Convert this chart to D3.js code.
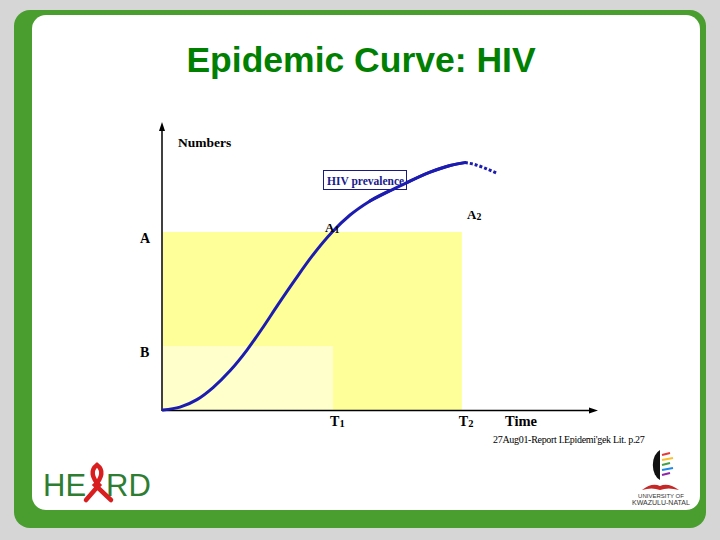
<!DOCTYPE html>
<html><head><meta charset="utf-8">
<script src="https://cdn.jsdelivr.net/npm/d3@7"></script>
<style>html,body{margin:0;padding:0;background:#d6d6d6;}svg{display:block;}</style>
</head><body>
<svg id="c" width="720" height="540"></svg>
<script>
// ---- data ----
const curveSolid = [[0,0],[3.9,1.0],[7.8,3.6],[11.5,7.8],[15.4,13.6],[19.3,20.8],[22.8,28.3],[26.4,36.5],[30.3,45.1],[34.3,53.5],[38.9,61.8],[43.0,67.7],[47.6,72.6],[54.5,77.8],[61.4,82.6],[66.0,84.9],[69.4,85.9]];
const curveDotted = [[69.4,85.9],[71.3,85.4],[74.0,84.0],[76.6,82.3]];
const timeMarks = [{label:"T",sub:"1",t:39.1},{label:"T",sub:"2",t:68.7}];
const levels = [{label:"A",v:61.8},{label:"B",v:22.2}];
const title = "Epidemic Curve: HIV";
const source = "27Aug01-Report I.Epidemi'gek Lit.  p.27";

const svg = d3.select("#c");
// frame
svg.append("rect").attr("x",14).attr("y",10).attr("width",692).attr("height",518).attr("rx",16).attr("fill","#4a9e2f");
svg.append("rect").attr("x",32).attr("y",15).attr("width",668).attr("height",495).attr("rx",14).attr("fill","#ffffff");

const x = d3.scaleLinear().domain([0,100]).range([163,598]);
const y = d3.scaleLinear().domain([0,100]).range([410,122]);

// rectangles
svg.append("rect").attr("x",x(0)).attr("y",y(levels[0].v)).attr("width",x(timeMarks[1].t)-x(0)).attr("height",y(0)-y(levels[0].v)).attr("fill","#ffff99");
svg.append("rect").attr("x",x(0)).attr("y",y(levels[1].v)).attr("width",x(timeMarks[0].t)-x(0)).attr("height",y(0)-y(levels[1].v)).attr("fill","#ffffcc");

// axes
const ser = "Liberation Serif, Times New Roman, serif";
svg.append("line").attr("x1",x(0)-1).attr("x2",x(0)-1).attr("y1",y(0)+1).attr("y2",y(100)+4).attr("stroke","#000").attr("stroke-width",1.5);
svg.append("path").attr("d",`M${x(0)-1},${y(100)} l-3,9 l6,0 z`).attr("fill","#000");
svg.append("line").attr("x1",x(0)-1).attr("x2",x(100)-4).attr("y1",y(0)+0.5).attr("y2",y(0)+0.5).attr("stroke","#000").attr("stroke-width",1.5);
svg.append("path").attr("d",`M${x(100)},${y(0)+0.5} l-9,-3 l0,6 z`).attr("fill","#000");

// curve
const line = d3.line().x(d=>x(d[0])).y(d=>y(d[1])).curve(d3.curveMonotoneX);
const curveAttrs = p => p.attr("fill","none").attr("stroke","#1c1cb0").attr("stroke-width",3).attr("stroke-linecap","round");
svg.append("path").attr("d",line(curveSolid)).call(curveAttrs);
svg.append("path").attr("d",line(curveDotted)).call(curveAttrs).attr("stroke-linecap","butt").attr("stroke-dasharray","3,2");

// title
svg.append("text").attr("x",361).attr("y",72).attr("text-anchor","middle").attr("font-family","Liberation Sans, Arial, sans-serif").attr("font-size",35.5).attr("font-weight","bold").attr("fill","#008000").text(title);

// labels
svg.append("text").attr("x",178).attr("y",147).attr("font-family",ser).attr("font-size",13.5).attr("font-weight","bold").text("Numbers");
svg.append("rect").attr("x",323.5).attr("y",170.5).attr("width",83).attr("height",19).attr("fill","#fff").attr("stroke","#1a1a80").attr("stroke-width",1);
svg.append("text").attr("x",327).attr("y",185).attr("font-family",ser).attr("font-size",11.5).attr("font-weight","bold").attr("fill","#1a1a8c").text("HIV prevalence");
// redraw curve over box edge
svg.append("path").attr("d",line(curveSolid.slice(12))).call(curveAttrs);

levels.forEach(l=>{
  svg.append("text").attr("x",140).attr("y",y(l.v)+11).attr("font-family",ser).attr("font-size",14).attr("font-weight","bold").text(l.label);
});
function sub(xp,yp,main,s,size){
  const t=svg.append("text").attr("x",xp).attr("y",yp).attr("font-family",ser).attr("font-size",size).attr("font-weight","bold");
  t.append("tspan").text(main);
  t.append("tspan").attr("font-size",size*0.75).attr("dy",1).text(s);
}
timeMarks.forEach(m=>{ sub(x(m.t)-3,426,m.label,m.sub,14); });
sub(325,232,"A","1",13);
sub(467,219,"A","2",13);
svg.append("text").attr("x",505).attr("y",426).attr("font-family",ser).attr("font-size",14.5).attr("font-weight","bold").text("Time");
svg.append("text").attr("x",493).attr("y",443).attr("font-family",ser).attr("font-size",10).attr("letter-spacing",-0.3).text(source);

// HEARD logo
const lg = svg.append("g");
lg.append("text").attr("x",43).attr("y",496).attr("font-family","Liberation Sans, Arial, sans-serif").attr("font-size",31).attr("fill","#2e7d32").text("HE");
lg.append("text").attr("x",106).attr("y",496).attr("font-family","Liberation Sans, Arial, sans-serif").attr("font-size",31).attr("fill","#2e7d32").text("RD");
lg.append("path").attr("d","M97,465 C90,470 92,478 99,485 L86,500 M97,465 C104,470 102,478 95,485 L111,500").attr("fill","none").attr("stroke","#d81e1e").attr("stroke-width",4.5).attr("stroke-linecap","round");

// UKZN logo
const ug = svg.append("g");
ug.append("path").attr("d","M660,450 a11,16 0 0 0 0,30 z").attr("fill","#111");
const cols=["#e53935","#fbc02d","#43a047","#1e88e5","#8e24aa"];
cols.forEach((c,i)=>{ug.append("line").attr("x1",662).attr("x2",670+(i%2)*3).attr("y1",455+i*5).attr("y2",453+i*5).attr("stroke",c).attr("stroke-width",2);});
ug.append("path").attr("d","M642,490 Q652,482 660,486 Q668,482 679,490 Q668,487 660,490 Q652,487 642,490 z").attr("fill","#c62828");
ug.append("text").attr("x",661).attr("y",498).attr("text-anchor","middle").attr("font-family","Liberation Sans, Arial, sans-serif").attr("font-size",6).attr("fill","#333").text("UNIVERSITY OF");
ug.append("text").attr("x",661).attr("y",505).attr("text-anchor","middle").attr("font-family","Liberation Sans, Arial, sans-serif").attr("font-size",7).attr("fill","#333").text("KWAZULU-NATAL");
</script>
</body></html>
